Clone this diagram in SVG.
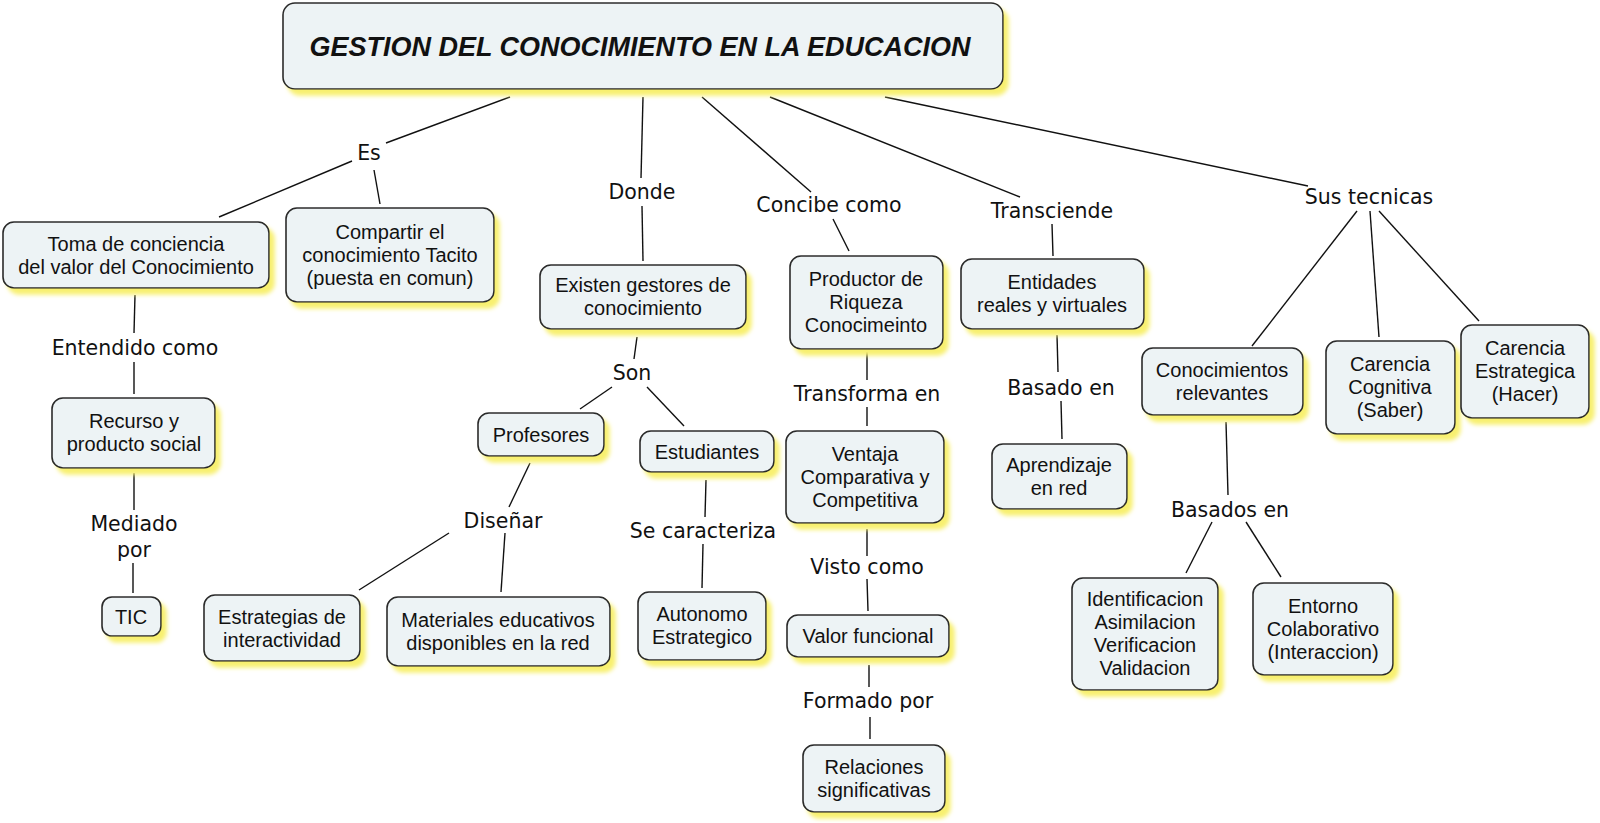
<svg xmlns="http://www.w3.org/2000/svg" width="1600" height="823" viewBox="0 0 1600 823">
<defs>
<filter id="ys" x="-10%" y="-10%" width="130%" height="140%">
<feOffset in="SourceAlpha" dx="5" dy="6" result="o"/>
<feGaussianBlur in="o" stdDeviation="2" result="b"/>
<feFlood flood-color="#f8f070"/>
<feComposite in2="b" operator="in" result="s"/>
<feMerge><feMergeNode in="s"/><feMergeNode in="SourceGraphic"/></feMerge>
</filter>
</defs>
<style>
.n rect{fill:#edf3f5;stroke:#2b2b2b;stroke-width:1.6;filter:url(#ys)}
.n text{font-family:"Liberation Sans",Arial,sans-serif;font-size:20px;fill:#111;text-anchor:middle}
.t text{font-family:"Liberation Sans",Arial,sans-serif;font-size:27px;font-weight:bold;font-style:italic;fill:#111;text-anchor:middle}
.l{font-family:"DejaVu Sans",Verdana,sans-serif;font-size:20.5px;fill:#111;text-anchor:middle}
#connectors line{stroke:#111;stroke-width:1.4}
</style>
<rect width="1600" height="823" fill="#fff"/>
<g id="connectors">
<line x1="510" y1="97" x2="386" y2="143"/>
<line x1="352" y1="161" x2="219" y2="217"/>
<line x1="374" y1="170" x2="380" y2="204"/>
<line x1="643" y1="97" x2="641" y2="178"/>
<line x1="642" y1="206" x2="643" y2="261"/>
<line x1="702" y1="97" x2="811" y2="192"/>
<line x1="833" y1="219" x2="849" y2="251"/>
<line x1="770" y1="97" x2="1020" y2="197"/>
<line x1="1052" y1="224" x2="1053" y2="256"/>
<line x1="885" y1="97" x2="1308" y2="186"/>
<line x1="1357" y1="211" x2="1252" y2="346"/>
<line x1="1370" y1="211" x2="1379" y2="337"/>
<line x1="1379" y1="211" x2="1479" y2="321"/>
<line x1="135" y1="295" x2="134" y2="333"/>
<line x1="134" y1="362" x2="134" y2="394"/>
<line x1="134" y1="473" x2="134" y2="510"/>
<line x1="133" y1="563" x2="133" y2="593"/>
<line x1="637" y1="337" x2="634" y2="359"/>
<line x1="612" y1="387" x2="580" y2="409"/>
<line x1="647" y1="387" x2="684" y2="426"/>
<line x1="530" y1="463" x2="509" y2="507"/>
<line x1="449" y1="533" x2="359" y2="590"/>
<line x1="505" y1="533" x2="501" y2="592"/>
<line x1="706" y1="480" x2="705" y2="517"/>
<line x1="703" y1="544" x2="702" y2="588"/>
<line x1="867" y1="352" x2="867" y2="380"/>
<line x1="867" y1="407" x2="867" y2="426"/>
<line x1="867" y1="529" x2="867" y2="556"/>
<line x1="867" y1="579" x2="868" y2="611"/>
<line x1="869" y1="665" x2="869" y2="687"/>
<line x1="870" y1="717" x2="870" y2="739"/>
<line x1="1057" y1="335" x2="1058" y2="372"/>
<line x1="1061" y1="401" x2="1062" y2="439"/>
<line x1="1226" y1="422" x2="1228" y2="495"/>
<line x1="1212" y1="522" x2="1186" y2="573"/>
<line x1="1246" y1="522" x2="1281" y2="577"/>
</g>
<g id="labels">
<text class="l" x="369" y="160">Es</text>
<text class="l" x="642" y="199">Donde</text>
<text class="l" x="829" y="212">Concibe como</text>
<text class="l" x="1052" y="218">Transciende</text>
<text class="l" x="1369" y="204">Sus tecnicas</text>
<text class="l" x="135" y="355">Entendido como</text>
<text class="l" x="134" y="531">Mediado</text>
<text class="l" x="134" y="557">por</text>
<text class="l" x="632" y="380">Son</text>
<text class="l" x="503" y="528">Diseñar</text>
<text class="l" x="703" y="538">Se caracteriza</text>
<text class="l" x="867" y="401">Transforma en</text>
<text class="l" x="867" y="574">Visto como</text>
<text class="l" x="868" y="708">Formado por</text>
<text class="l" x="1061" y="395">Basado en</text>
<text class="l" x="1230" y="517">Basados en</text>
</g>
<g id="title" class="n t"><rect x="283" y="3" width="720" height="86" rx="12"/><text x="640" y="56">GESTION DEL CONOCIMIENTO EN LA EDUCACION</text></g>
<g id="toma" class="n"><rect x="3" y="222" width="266" height="66" rx="11"/><text x="136" y="251">Toma de conciencia</text><text x="136" y="274">del valor del Conocimiento</text></g>
<g id="compartir" class="n"><rect x="286" y="208" width="208" height="94" rx="11"/><text x="390" y="239">Compartir el</text><text x="390" y="262">conocimiento Tacito</text><text x="390" y="285">(puesta en comun)</text></g>
<g id="existen" class="n"><rect x="540" y="265" width="206" height="64" rx="11"/><text x="643" y="292">Existen gestores de</text><text x="643" y="315">conocimiento</text></g>
<g id="productor" class="n"><rect x="790" y="256" width="153" height="93" rx="11"/><text x="866" y="286">Productor de</text><text x="866" y="309">Riqueza</text><text x="866" y="332">Conocimeinto</text></g>
<g id="entidades" class="n"><rect x="961" y="259" width="183" height="70" rx="11"/><text x="1052" y="289">Entidades</text><text x="1052" y="312">reales y virtuales</text></g>
<g id="conocimientos" class="n"><rect x="1142" y="348" width="161" height="67" rx="11"/><text x="1222" y="377">Conocimientos</text><text x="1222" y="400">relevantes</text></g>
<g id="cognitiva" class="n"><rect x="1326" y="341" width="129" height="93" rx="11"/><text x="1390" y="371">Carencia</text><text x="1390" y="394">Cognitiva</text><text x="1390" y="417">(Saber)</text></g>
<g id="estrategica" class="n"><rect x="1461" y="325" width="128" height="93" rx="11"/><text x="1525" y="355">Carencia</text><text x="1525" y="378">Estrategica</text><text x="1525" y="401">(Hacer)</text></g>
<g id="recurso" class="n"><rect x="52" y="398" width="163" height="70" rx="11"/><text x="134" y="428">Recurso y</text><text x="134" y="451">producto social</text></g>
<g id="tic" class="n"><rect x="102" y="597" width="59" height="39" rx="10"/><text x="131" y="624">TIC</text></g>
<g id="profesores" class="n"><rect x="478" y="413" width="126" height="43" rx="11"/><text x="541" y="442">Profesores</text></g>
<g id="estudiantes" class="n"><rect x="640" y="431" width="134" height="41" rx="11"/><text x="707" y="459">Estudiantes</text></g>
<g id="ventaja" class="n"><rect x="786" y="431" width="158" height="92" rx="11"/><text x="865" y="461">Ventaja</text><text x="865" y="484">Comparativa y</text><text x="865" y="507">Competitiva</text></g>
<g id="aprendizaje" class="n"><rect x="992" y="444" width="135" height="65" rx="11"/><text x="1059" y="472">Aprendizaje</text><text x="1059" y="495">en red</text></g>
<g id="estrategias" class="n"><rect x="204" y="595" width="156" height="66" rx="11"/><text x="282" y="624">Estrategias de</text><text x="282" y="647">interactividad</text></g>
<g id="materiales" class="n"><rect x="387" y="597" width="223" height="69" rx="11"/><text x="498" y="627">Materiales educativos</text><text x="498" y="650">disponibles en la red</text></g>
<g id="autonomo" class="n"><rect x="638" y="592" width="128" height="68" rx="11"/><text x="702" y="621">Autonomo</text><text x="702" y="644">Estrategico</text></g>
<g id="valor" class="n"><rect x="787" y="615" width="162" height="42" rx="11"/><text x="868" y="643">Valor funcional</text></g>
<g id="relaciones" class="n"><rect x="803" y="745" width="142" height="67" rx="11"/><text x="874" y="774">Relaciones</text><text x="874" y="797">significativas</text></g>
<g id="identificacion" class="n"><rect x="1072" y="578" width="146" height="112" rx="11"/><text x="1145" y="606">Identificacion</text><text x="1145" y="629">Asimilacion</text><text x="1145" y="652">Verificacion</text><text x="1145" y="675">Validacion</text></g>
<g id="entorno" class="n"><rect x="1253" y="583" width="140" height="92" rx="11"/><text x="1323" y="613">Entorno</text><text x="1323" y="636">Colaborativo</text><text x="1323" y="659">(Interaccion)</text></g>
</svg>
